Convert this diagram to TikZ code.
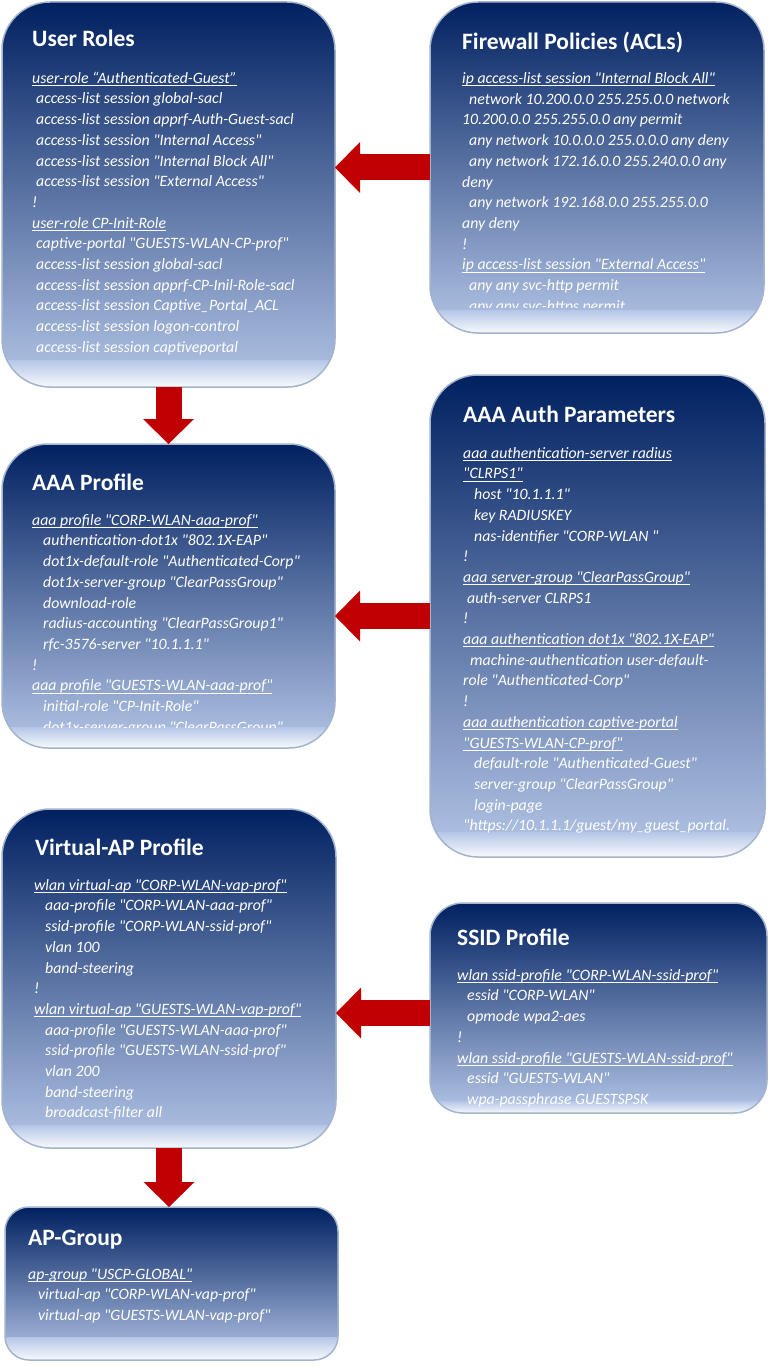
\documentclass[tikz,border=0pt]{standalone}
\usepackage{fontspec}
\setmainfont{Carlito}
\newfontfamily\carl{Carlito}
\usetikzlibrary{arrows.meta}
\definecolor{navy}{HTML}{002060}
\definecolor{lightb}{HTML}{B4C6E7}
\definecolor{edgec}{HTML}{A3B4CC}
\definecolor{arrowred}{HTML}{C00000}
\newsavebox\myulbox
\newcommand\myul[1]{\sbox\myulbox{#1}\rlap{\rule[-2.7pt]{\wd\myulbox}{0.9pt}}\usebox\myulbox}
% fade at the bottom of a box and its border: name, radius, fade height
\newcommand\fadebox[3]{%
  \begin{scope}
    \clip[rounded corners=#2] (#1.north west) rectangle (#1.south east);
    \shade[top color=lightb, bottom color=white!95!lightb] ([yshift=#3]#1.south west) rectangle ([yshift=-1pt]#1.south east);
  \end{scope}
  \draw[draw=edgec, line width=1.5pt, rounded corners=#2] (#1.north west) rectangle (#1.south east);}
\begin{document}
\begin{tikzpicture}[x=1pt,y=-1pt,
  box/.style={top color=navy, bottom color=lightb,
    anchor=north west, inner sep=0pt, outer sep=0pt},
  ttl/.style={anchor=base west, text=white, font=\carl\bfseries\fontsize{23.5}{28}\selectfont, inner sep=0pt},
  body/.style={anchor=north west, text=white, align=left, font=\carl\itshape\fontsize{15.8}{20.7}\selectfont, inner sep=0pt},
  bigarrow/.style={draw=arrowred, line width=26pt, -{Triangle[width=51pt,length=25pt,line width=0pt]}}
]
\useasboundingbox[fill=white] (0,0) rectangle (768,1367);

% boxes
\node[box, minimum width=333pt, minimum height=385pt, rounded corners=48pt] (ur) at (2,2) {};
\node[box, minimum width=334pt, minimum height=331pt, rounded corners=48pt] (fw) at (430,2) {};
\node[box, minimum width=333pt, minimum height=304pt, rounded corners=46pt] (aaa) at (2,444) {};
\node[box, minimum width=335pt, minimum height=482pt, rounded corners=48pt] (auth) at (430,375) {};
\node[box, minimum width=334pt, minimum height=339pt, rounded corners=48pt] (vap) at (2,809) {};
\node[box, minimum width=337pt, minimum height=210pt, rounded corners=33pt] (ssid) at (430,903) {};
\node[box, minimum width=333pt, minimum height=153pt, rounded corners=24pt] (apg) at (5,1207) {};
\fadebox{ur}{48pt}{27pt}
\fadebox{fw}{48pt}{23pt}
\fadebox{aaa}{46pt}{21pt}
\fadebox{auth}{48pt}{25pt}
\fadebox{vap}{48pt}{23pt}
\fadebox{ssid}{33pt}{12pt}
\fadebox{apg}{24pt}{23pt}

% titles
\node[ttl] (urT) at (32,47) {User Roles};
\node[ttl] (fwT) at (462,50) {Firewall Policies (ACLs)};
\node[ttl] (aaaT) at (32,490) {AAA Profile};
\node[ttl] (authT) at (463,422) {AAA Auth Parameters};
\node[ttl] (vapT) at (35,855) {Virtual-AP Profile};
\node[ttl] (ssidT) at (457,945) {SSID Profile};
\node[ttl] (apgT) at (28,1245) {AP-Group};

% bodies
\begin{scope}
\clip (ur.north west) rectangle ([yshift=20pt]ur.south east);
\node[body] (urB) at (32,67) {\rule{0pt}{16pt}\myul{user-role “Authenticated-Guest”}\\
\hspace*{4pt}access-list session global-sacl\\
\hspace*{4pt}access-list session apprf-Auth-Guest-sacl\\
\hspace*{4pt}access-list session "Internal Access"\\
\hspace*{4pt}access-list session "Internal Block All"\\
\hspace*{4pt}access-list session "External Access"\\
!\\
\myul{user-role CP-Init-Role}\\
\hspace*{4pt}captive-portal "GUESTS-WLAN-CP-prof"\\
\hspace*{4pt}access-list session global-sacl\\
\hspace*{4pt}access-list session apprf-CP-Inil-Role-sacl\\
\hspace*{4pt}access-list session Captive\_Portal\_ACL\\
\hspace*{4pt}access-list session logon-control\\
\hspace*{4pt}access-list session captiveportal};
\end{scope}

\begin{scope}
\clip (fw.north west) rectangle ([yshift=26pt]fw.south east);
\node[body] (fwB) at (462,67.3) {\rule{0pt}{16pt}\myul{ip access-list session "Internal Block All"}\\
\hspace*{7pt}network 10.200.0.0 255.255.0.0 network\\
10.200.0.0 255.255.0.0 any permit\\
\hspace*{7pt}any network 10.0.0.0 255.0.0.0 any deny\\
\hspace*{7pt}any network 172.16.0.0 255.240.0.0 any\\
deny\\
\hspace*{7pt}any network 192.168.0.0 255.255.0.0\\
any deny\\
!\\
\myul{ip access-list session "External Access"}\\
\hspace*{7pt}any any svc-http permit\\
\hspace*{7pt}any any svc-https permit};
\end{scope}

\begin{scope}
\clip (aaa.north west) rectangle ([yshift=21pt]aaa.south east);
\node[body] (aaaB) at (32,509) {\rule{0pt}{16pt}\myul{aaa profile "CORP-WLAN-aaa-prof"}\\
\hspace*{11pt}authentication-dot1x "802.1X-EAP"\\
\hspace*{11pt}dot1x-default-role "Authenticated-Corp"\\
\hspace*{11pt}dot1x-server-group "ClearPassGroup"\\
\hspace*{11pt}download-role\\
\hspace*{11pt}radius-accounting "ClearPassGroup1"\\
\hspace*{11pt}rfc-3576-server "10.1.1.1"\\
!\\
\myul{aaa profile "GUESTS-WLAN-aaa-prof"}\\
\hspace*{11pt}initial-role "CP-Init-Role"\\
\hspace*{11pt}dot1x-server-group "ClearPassGroup"};
\end{scope}

\begin{scope}
\clip (auth.north west) rectangle ([yshift=23pt]auth.south east);
\node[body] (authB) at (463,442) {\rule{0pt}{16pt}\myul{aaa authentication-server radius}\\
\myul{"CLRPS1"}\\
\hspace*{11pt}host "10.1.1.1"\\
\hspace*{11pt}key RADIUSKEY\\
\hspace*{11pt}nas-identifier "CORP-WLAN "\\
!\\
\myul{aaa server-group "ClearPassGroup"}\\
\hspace*{4pt}auth-server CLRPS1\\
!\\
\myul{aaa authentication dot1x "802.1X-EAP"}\\
\hspace*{7pt}machine-authentication user-default-\\
role "Authenticated-Corp"\\
!\\
\myul{aaa authentication captive-portal}\\
\myul{"GUESTS-WLAN-CP-prof"}\\
\hspace*{11pt}default-role "Authenticated-Guest"\\
\hspace*{11pt}server-group "ClearPassGroup"\\
\hspace*{11pt}login-page\\
"https://10.1.1.1/guest/my\_guest\_portal.};
\end{scope}

\begin{scope}
\clip (vap.north west) rectangle ([yshift=22pt]vap.south east);
\node[body] (vapB) at (34,874) {\rule{0pt}{16pt}\myul{wlan virtual-ap "CORP-WLAN-vap-prof"}\\
\hspace*{11pt}aaa-profile "CORP-WLAN-aaa-prof"\\
\hspace*{11pt}ssid-profile "CORP-WLAN-ssid-prof"\\
\hspace*{11pt}vlan 100\\
\hspace*{11pt}band-steering\\
!\\
\myul{wlan virtual-ap "GUESTS-WLAN-vap-prof"}\\
\hspace*{11pt}aaa-profile "GUESTS-WLAN-aaa-prof"\\
\hspace*{11pt}ssid-profile "GUESTS-WLAN-ssid-prof"\\
\hspace*{11pt}vlan 200\\
\hspace*{11pt}band-steering\\
\hspace*{11pt}broadcast-filter all};
\end{scope}

\begin{scope}
\clip (ssid.north west) rectangle ([yshift=7pt]ssid.south east);
\node[body] (ssidB) at (457,964) {\rule{0pt}{16pt}\myul{wlan ssid-profile "CORP-WLAN-ssid-prof"}\\
\hspace*{10pt}essid "CORP-WLAN"\\
\hspace*{10pt}opmode wpa2-aes\\
!\\
\myul{wlan ssid-profile "GUESTS-WLAN-ssid-prof"}\\
\hspace*{10pt}essid "GUESTS-WLAN"\\
\hspace*{10pt}wpa-passphrase GUESTSPSK};
\end{scope}

\node[body] (apgB) at (28,1263) {\rule{0pt}{16pt}\myul{ap-group "USCP-GLOBAL"}\\
\hspace*{10pt}virtual-ap "CORP-WLAN-vap-prof"\\
\hspace*{10pt}virtual-ap "GUESTS-WLAN-vap-prof"};

% arrows
\draw[bigarrow] (fw.west) -- (fw.west -| ur.east);
\draw[bigarrow] (ur.south) -- (aaa.north);
\draw[bigarrow] (auth.west) -- (auth.west -| aaa.east);
\draw[bigarrow] ([yshift=-5pt]ssid.west) -- ([yshift=-5pt]ssid.west -| vap.east);
\draw[bigarrow] (vap.south) -- (vap.south |- apg.north);
\end{tikzpicture}
\end{document}
